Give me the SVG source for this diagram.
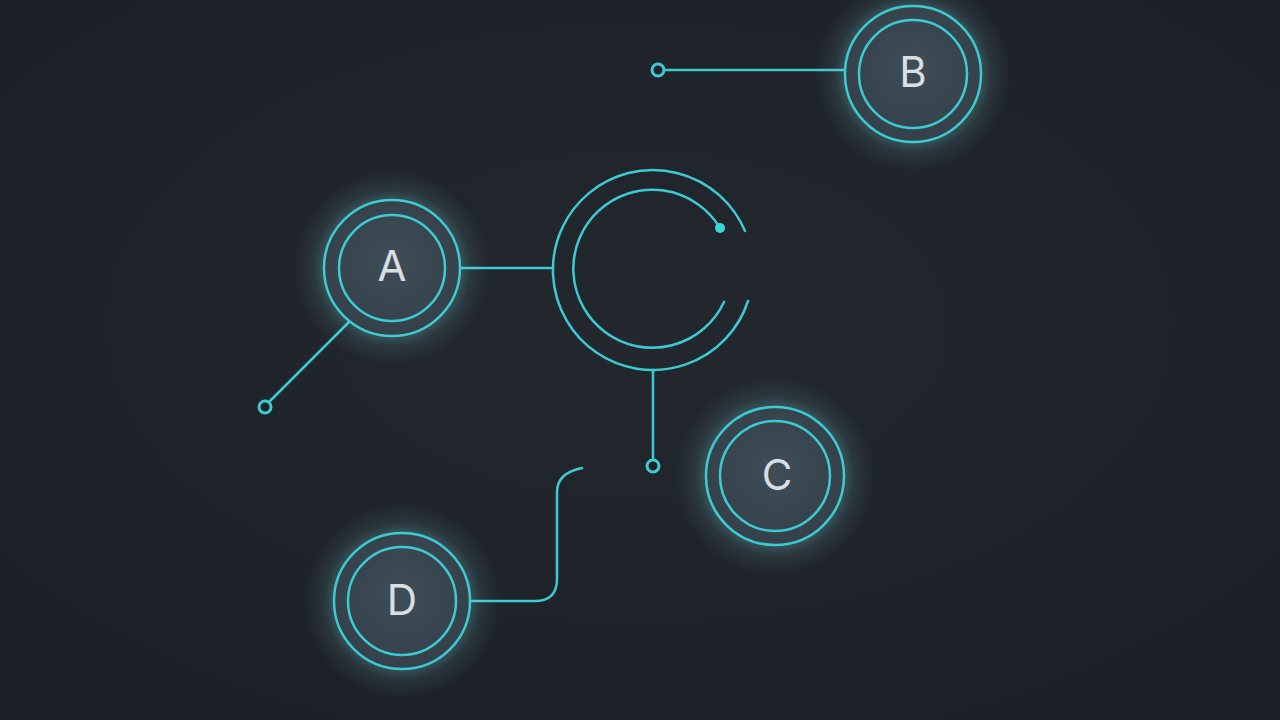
<svg xmlns="http://www.w3.org/2000/svg" width="1280" height="720" viewBox="0 0 1280 720">
<defs>
<radialGradient id="bg" cx="50%" cy="45%" r="75%">
<stop offset="0" stop-color="#23272e"/>
<stop offset="1" stop-color="#1c2026"/>
</radialGradient>
<radialGradient id="glow">
<stop offset="0" stop-color="#7fdce2" stop-opacity="0.4"/>
<stop offset="0.66" stop-color="#7fdce2" stop-opacity="0.3"/>
<stop offset="0.8" stop-color="#7fdce2" stop-opacity="0.1"/>
<stop offset="1" stop-color="#7fdce2" stop-opacity="0"/>
</radialGradient>
<radialGradient id="disc" cx="50%" cy="45%" r="55%">
<stop offset="0" stop-color="#3f4d58"/>
<stop offset="1" stop-color="#34414a"/>
</radialGradient>
</defs>
<style>
.ln{fill:none;stroke:#3ccbd3;stroke-width:2.5;stroke-linecap:round}
.ring{fill:none;stroke:#3ccbd3;stroke-width:2.5}
.disc{fill:url(#disc)}
.glow{fill:url(#glow)}
.end{fill:#1e2228;stroke:#3ccbd3;stroke-width:3}
.lbl{font-family:Inter,"Noto Sans",sans-serif;font-size:42px;font-weight:400;fill:#d9dee1;text-anchor:middle;dominant-baseline:central}
</style>
<rect width="1280" height="720" fill="url(#bg)"/>

<g id="connectors">
<line class="ln" x1="460" y1="268" x2="553" y2="268"/>
<line class="ln" x1="350" y1="321" x2="269" y2="402"/>
<circle class="end" cx="265" cy="407" r="6"/>
<line class="ln" x1="664" y1="70" x2="845" y2="70"/>
<circle class="end" cx="658" cy="70" r="6"/>
<line class="ln" x1="653" y1="370" x2="653" y2="460"/>
<circle class="end" cx="653" cy="466" r="6"/>
<path class="ln" d="M470 601 H535 Q557 601 557 579 V492 Q557 473 582 468"/>
</g>

<g id="hub">
<path class="ln" d="M745 231 A100 100 0 1 0 748 301"/>
<path class="ln" d="M720 228 A79 79 0 1 0 724 302"/>
<circle cx="720" cy="228" r="5" fill="#3cd3dd"/>
</g>

<g id="node-A">
<circle class="glow" cx="392" cy="268" r="98"/>
<circle class="disc" cx="392" cy="268" r="68"/>
<circle class="ring" cx="392" cy="268" r="68"/>
<circle class="ring" cx="392" cy="268" r="53"/>
<text class="lbl" x="392" y="265">A</text>
</g>

<g id="node-B">
<circle class="glow" cx="913" cy="74" r="98"/>
<circle class="disc" cx="913" cy="74" r="68"/>
<circle class="ring" cx="913" cy="74" r="68"/>
<circle class="ring" cx="913" cy="74" r="54"/>
<text class="lbl" x="913" y="71">B</text>
</g>

<g id="node-C">
<circle class="glow" cx="775" cy="476" r="100"/>
<circle class="disc" cx="775" cy="476" r="69"/>
<circle class="ring" cx="775" cy="476" r="69"/>
<circle class="ring" cx="775" cy="476" r="55"/>
<text class="lbl" x="777" y="474">C</text>
</g>

<g id="node-D">
<circle class="glow" cx="402" cy="601" r="98"/>
<circle class="disc" cx="402" cy="601" r="68"/>
<circle class="ring" cx="402" cy="601" r="68"/>
<circle class="ring" cx="402" cy="601" r="54"/>
<text class="lbl" x="402" y="599">D</text>
</g>
</svg>
